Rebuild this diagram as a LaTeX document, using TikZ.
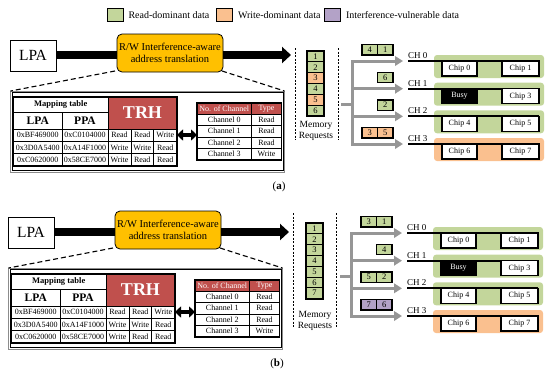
\documentclass[tikz,border=0pt]{standalone}
\usepackage{fontspec}
\setmainfont{Liberation Serif}
\usetikzlibrary{arrows.meta}
\definecolor{rdgreen}{RGB}{195,214,155}
\definecolor{wrorange}{RGB}{250,192,143}
\definecolor{ivpurple}{RGB}{179,162,199}
\definecolor{rwgold}{RGB}{255,192,0}
\definecolor{trhred}{RGB}{192,80,77}
\definecolor{treegray}{RGB}{150,150,150}
\newcommand\tcell[7]{\node[#1, minimum width={(#4-#2)*1pt}, minimum height={(#5-#3)*1pt}] (#6) at ({(#2+#4)/2},{(#3+#5)/2}) {#7};}
\begin{document}
\begin{tikzpicture}[x=1pt,y=-1pt,
  every node/.style={inner sep=0pt, outer sep=0pt},
  cell/.style={draw, line width=0.7pt, font=\fontsize{8}{9}\selectfont},
  redcell/.style={cell, fill=trhred, text=white},
  thickframe/.style={draw, line width=1.6pt},
  legsq/.style={draw, line width=0.8pt, minimum width=16pt, minimum height=13.5pt},
  legtxt/.style={anchor=west, font=\fontsize{10}{12}\selectfont},
  lpabox/.style={draw, line width=0.8pt, fill=white, minimum width=46pt, minimum height=31pt, font=\fontsize{15.5}{16}\selectfont},
  rwbox/.style={draw, line width=0.8pt, fill=rwgold, rounded corners=5pt, minimum width=106pt, minimum height=38pt, align=center, font=\fontsize{10.5}{12.5}\selectfont},
  bigbar/.style={line width=8pt},
  bigarrow/.style={line width=8pt, -{Triangle[length=9pt,width=16pt]}},
  zoomline/.style={line width=1.1pt, dash pattern=on 5pt off 3pt},
  panelbox/.style={draw=black!45, line width=1pt, minimum width=274pt, minimum height=81pt},
  innerframe/.style={draw, line width=0.7pt},
  dblarrow/.style={line width=3.5pt, {Triangle[length=6pt,width=11pt]}-{Triangle[length=6pt,width=11pt]}},
  sublabel/.style={font=\fontsize{11}{12}\selectfont},
  memcell/.style={draw, line width=0.7pt, minimum width=17pt, minimum height=10.8pt, font=\fontsize{8.5}{9}\selectfont},
  memframe/.style={draw, line width=1.8pt},
  memtxt/.style={align=center, font=\fontsize{9.5}{11}\selectfont},
  reqsep/.style={line width=0.9pt, dash pattern=on 2pt off 1.5pt},
  reqcell/.style={draw, line width=1.4pt, minimum width=15.5pt, minimum height=10.5pt, font=\fontsize{8.5}{9}\selectfont},
  treeline/.style={draw=treegray, line width=3pt},
  treearrow/.style={treeline, -{Triangle[length=8pt,width=9.5pt]}},
  chlabel/.style={anchor=base west, font=\fontsize{9}{10}\selectfont},
  chline/.style={line width=1.8pt},
  bgbox/.style={rounded corners=3pt, minimum width=110pt, minimum height=23pt},
  chip/.style={draw, line width=1.5pt, fill=white, minimum height=15pt, font=\fontsize{8}{9}\selectfont},
  busy/.style={chip, fill=black, text=white},
]
\useasboundingbox (0,0) rectangle (550,376);

% legend
\node[legsq, fill=rdgreen] (lg1) at (115,15) {};
\node[legtxt] (lt1) at (128.5,15) {Read-dominant data};
\node[legsq, fill=wrorange] (lg2) at (224.5,15) {};
\node[legtxt] (lt2) at (238,15) {Write-dominant data};
\node[legsq, fill=ivpurple] (lg3) at (332,15) {};
\node[legtxt] (lt3) at (346,15) {Interference-vulnerable data};

% left parts
\foreach \p/\dx/\dy in {a/0/0, b/-2/177}{
\begin{scope}[shift={(\dx,\dy)}]
  \node[lpabox] (\p-lpa) at (33,55.5) {LPA};
  \node[rwbox] (\p-rw) at (170,53) {R/W Interference-aware\\address translation};
  \coordinate (\p-bar) at (60,55);
  \coordinate (\p-tip) at (291,55);
  \draw[bigbar] (\p-lpa.east |- \p-bar) -- (\p-rw.west |- \p-bar);
  \draw[bigarrow] (\p-rw.east |- \p-bar) -- (\p-tip);
  \node[panelbox] (\p-panel) at (147.5,131.5) {};
  \draw[innerframe] ([shift={(1.5,1.5)}]\p-panel.north west) rectangle ([shift={(-1.5,-1.5)}]\p-panel.south east);
  \draw[zoomline] ([shift={(-2,-1)}]\p-rw.south west) -- (\p-panel.north west);
  \draw[zoomline] ([shift={(-1,-1)}]\p-rw.south east) -- (\p-panel.north east);
  % mapping table
  \tcell{cell,font=\fontsize{8.5}{9}\selectfont\bfseries}{13.5}{97}{108}{112}{\p-mth}{Mapping table}
  \tcell{cell,font=\fontsize{11.5}{12}\selectfont\bfseries}{13.5}{112}{62}{129}{\p-lpah}{LPA}
  \tcell{cell,font=\fontsize{11.5}{12}\selectfont\bfseries}{62}{112}{108}{129}{\p-ppah}{PPA}
  \tcell{redcell,font=\fontsize{18}{18}\selectfont\bfseries}{108}{97}{177}{129}{\p-trh}{TRH}
  \foreach \ha/\hb/\ra/\rb/\rc/\ya/\yb [count=\r] in {0xBF469000/0xC0104000/Read/Read/Write/129/141.3, 0x3D0A5400/0xA14F1000/Write/Write/Read/141.3/153.6, 0xC0620000/0x58CE7000/Write/Read/Read/153.6/166}{
    \tcell{cell}{13.5}{\ya}{62}{\yb}{\p-ha\r}{\ha}
    \tcell{cell}{62}{\ya}{108}{\yb}{\p-hb\r}{\hb}
    \tcell{cell}{108}{\ya}{131}{\yb}{\p-ra\r}{\ra}
    \tcell{cell}{131}{\ya}{153.5}{\yb}{\p-rb\r}{\rb}
    \tcell{cell}{153.5}{\ya}{177}{\yb}{\p-rc\r}{\rc}
  }
  \tcell{thickframe}{13.5}{97}{177}{166}{\p-mt}{}
  % channel table
  \tcell{redcell}{197}{103}{251.5}{114}{\p-cth1}{No. of Channel}
  \tcell{redcell}{251.5}{103}{281.5}{114}{\p-cth2}{Type}
  \foreach \ch/\ty/\ya/\yb [count=\r] in {Channel 0/Read/114/125.5, Channel 1/Read/125.5/137, Channel 2/Read/137/148.5, Channel 3/Write/148.5/160}{
    \tcell{cell}{197}{\ya}{251.5}{\yb}{\p-cc\r}{\ch}
    \tcell{cell}{251.5}{\ya}{281.5}{\yb}{\p-ct\r}{\ty}
  }
  \tcell{thickframe}{197}{103}{281.5}{160}{\p-ctab}{}
  \coordinate (\p-arr) at (187,135);
  \draw[dblarrow] (\p-mt.east |- \p-arr) -- (\p-ctab.west |- \p-arr);
  \node[sublabel] (\p-lab) at (279,186.5) {(\textbf{\p})};
\end{scope}
}

% right parts, common
\foreach \p/\dx/\dy in {a/0/0, b/-1/172}{
\begin{scope}[shift={(\dx,\dy)}]
  \coordinate (\p-stub) at (341,104);
  \coordinate (\p-jtop) at (352,61);
  \coordinate (\p-jbot) at (352,144);
  \draw[treeline] (\p-stub) -- (\p-stub -| \p-jtop);
  \draw[treeline, line cap=rect] (\p-jtop) -- (\p-jbot);
  \foreach \k/\y/\bgc/\ls/\lt/\rt in {0/61/rdgreen/chip/Chip 0/Chip 1, 1/88.7/rdgreen/busy/Busy/Chip 3, 2/116.3/rdgreen/chip/Chip 4/Chip 5, 3/144/wrorange/chip/Chip 6/Chip 7}{
    \coordinate (\p-j\k) at (352,\y);
    \coordinate (\p-t\k) at (403,\y);
    \draw[treearrow] (\p-j\k) -- (\p-t\k);
    \node[bgbox, fill=\bgc] (\p-bg\k) at (489,\y+5.5) {};
    \coordinate (\p-cs\k) at (408,\y);
    \coordinate (\p-ce\k) at (539,\y);
    \draw[chline] (\p-cs\k) -- (\p-ce\k);
    \node[chlabel] (\p-ch\k) at (408,\y-2.5) {CH \k};
    \node[\ls, minimum width=35pt] (\p-cl\k) at (459.5,\y+7.5) {\lt};
    \node[chip, minimum width=37pt] (\p-cr\k) at (520.5,\y+7.5) {\rt};
  }
\end{scope}
}

% right part (a)
\foreach \c [count=\i] in {rdgreen,rdgreen,wrorange,rdgreen,wrorange,rdgreen}{
  \node[memcell, fill=\c] (a-m\i) at (315.5,{51+(\i-0.5)*10.8}) {\i};
}
\draw[memframe] (a-m1.north west) rectangle (a-m6.south east);
\node[memtxt] (a-mem) at (316,130.5) {Memory\\Requests};
\coordinate (a-s1t) at (295,48); \coordinate (a-s1b) at (295,140);
\coordinate (a-s2t) at (338,48); \coordinate (a-s2b) at (338,140);
\draw[reqsep] (a-s1t) -- (a-s1b);
\draw[reqsep] (a-s2t) -- (a-s2b);
\node[reqcell, fill=rdgreen] (a-r0a) at (369.75,49.75) {4};
\node[reqcell, fill=rdgreen] (a-r0b) at (385.25,49.75) {1};
\node[reqcell, fill=rdgreen] (a-r1b) at (385.25,77.45) {6};
\node[reqcell, fill=rdgreen] (a-r2b) at (385.25,105.05) {2};
\node[reqcell, fill=wrorange] (a-r3a) at (369.75,132.75) {3};
\node[reqcell, fill=wrorange] (a-r3b) at (385.25,132.75) {5};

% right part (b)
\begin{scope}[shift={(-1,172)}]
\foreach \i in {1,...,7}{
  \node[memcell, fill=rdgreen] (b-m\i) at (315.5,{51+(\i-0.5)*10.8}) {\i};
}
\draw[memframe] (b-m1.north west) rectangle (b-m7.south east);
\node[memtxt] (b-mem) at (316,148.5) {Memory\\Requests};
\coordinate (b-s1t) at (294,41); \coordinate (b-s1b) at (294,155);
\coordinate (b-s2t) at (337,41); \coordinate (b-s2b) at (337,155);
\draw[reqsep] (b-s1t) -- (b-s1b);
\draw[reqsep] (b-s2t) -- (b-s2b);
\node[reqcell, fill=rdgreen] (b-r0a) at (369.75,49.75) {3};
\node[reqcell, fill=rdgreen] (b-r0b) at (385.25,49.75) {1};
\node[reqcell, fill=rdgreen] (b-r1b) at (385.25,77.45) {4};
\node[reqcell, fill=rdgreen] (b-r2a) at (369.75,105.05) {5};
\node[reqcell, fill=rdgreen] (b-r2b) at (385.25,105.05) {2};
\node[reqcell, fill=ivpurple] (b-r3a) at (369.75,132.75) {7};
\node[reqcell, fill=ivpurple] (b-r3b) at (385.25,132.75) {6};
\end{scope}
\end{tikzpicture}
\end{document}
